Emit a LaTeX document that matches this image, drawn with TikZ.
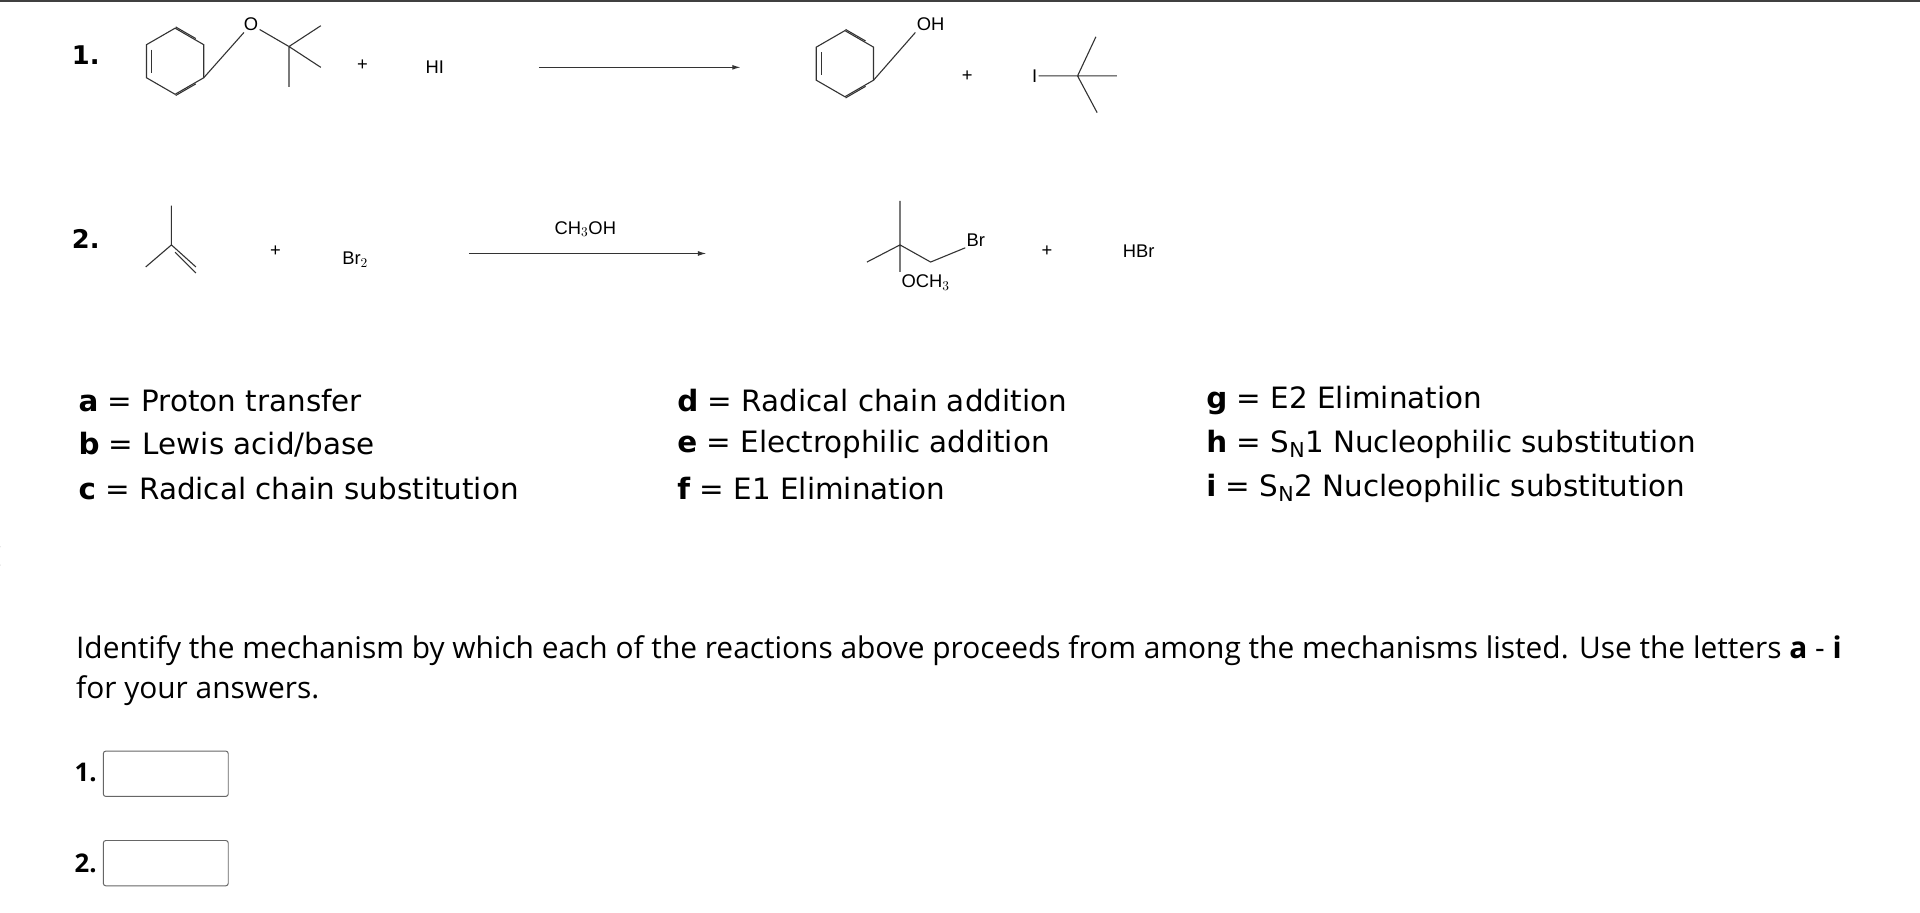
\documentclass[tikz,border=0pt]{standalone}
\usepackage{fontspec}
\setmainfont{DejaVu Sans}
\newfontfamily\chemf{Liberation Sans}
\newfontfamily\instf{Open Sans}
\usetikzlibrary{arrows.meta,calc}
\begin{document}
\begin{tikzpicture}[x=1pt,y=-1pt,
  bond/.style={line width=0.9pt,black!80},
  chem/.style={font=\chemf\fontsize{15}{17}\selectfont,inner sep=1pt},
  leg/.style={anchor=west,font=\fontsize{24}{28}\selectfont,inner sep=0pt},
  num/.style={font=\bfseries\fontsize{21}{24}\selectfont,inner sep=0pt},
  rxn/.style={line width=1pt,black!80,-{Latex[length=7pt,width=4pt]}},
  ansbox/.style={draw=black!60,line width=0.8pt,rounded corners=2pt,minimum width=102pt,minimum height=37pt,inner sep=0pt,anchor=north west}]
\useasboundingbox (0,0) rectangle (1568,745);
\fill[white] (0,0) rectangle (1568,745);
\fill[black!75] (0,0) rectangle (1568,2);
\draw[black!25,line width=1pt] (0,462) arc (-90:90:-1pt and 8pt);
% reaction 1
\node[num] (n1) at (70,45) {1.};
\foreach \i in {0,...,5}{\coordinate (r\i) at ($(143,50)+(90-60*\i:27)$);}
\draw[bond] (r0)--(r1)--(r2)--(r3)--(r4)--(r5)--cycle;
\draw[bond] ($(r0)!0.15!(r1)+(-3,3)$)--($(r0)!0.85!(r1)+(-3,3)$);
\draw[bond] ($(r2)!0.15!(r3)+(-3,-3)$)--($(r2)!0.85!(r3)+(-3,-3)$);
\draw[bond] ($(r4)!0.15!(r5)+(4,0)$)--($(r4)!0.85!(r5)+(4,0)$);
\node[chem] (O1) at (205,20) {O};
\coordinate (c1) at (236,38);
\draw[bond] (r1)--(O1) (O1)--(c1) (c1)--(262,21) (c1)--(262,55) (c1)--(236,71);
\node[chem] (p1) at (296,53) {+};
\node[chem] (HI) at (355,55) {HI};
\coordinate (a1s) at (440,55); \coordinate (a1e) at (605,55);
\draw[rxn] (a1s)--(a1e);
\foreach \i in {0,...,5}{\coordinate (q\i) at ($(690,52)+(90-60*\i:27)$);}
\draw[bond] (q0)--(q1)--(q2)--(q3)--(q4)--(q5)--cycle;
\draw[bond] ($(q0)!0.15!(q1)+(-3,3)$)--($(q0)!0.85!(q1)+(-3,3)$);
\draw[bond] ($(q2)!0.15!(q3)+(-3,-3)$)--($(q2)!0.85!(q3)+(-3,-3)$);
\draw[bond] ($(q4)!0.15!(q5)+(4,0)$)--($(q4)!0.85!(q5)+(4,0)$);
\node[chem] (OH1) at (760,20) {OH};
\draw[bond] (q1)--(OH1.south west);
\node[chem] (p2) at (790,62) {+};
\node[chem] (I1) at (845,62) {I};
\coordinate (c2) at (880,62);
\draw[bond] (I1)--(c2) (c2)--(912,62) (c2)--(895,30) (c2)--(896,92);
% reaction 2
\node[num] (n2) at (70,195) {2.};
\coordinate (c3) at (140,200);
\draw[bond] (c3)--(140,168) (c3)--(119,218) (c3)--(160,218);
\draw[bond] (143,206)--(160,223);
\node[chem] (p3) at (225,205) {+};
\node[chem] (Br2) at (290,212) {Br$_2$};
\coordinate (a2s) at (383,207); \coordinate (a2e) at (577,207);
\draw[rxn] (a2s)--(a2e);
\node[chem] (solv) at (478,187) {CH$_3$OH};
\coordinate (c4) at (735,200);
\node[chem] (Br3) at (797,196) {Br};
\node[chem] (OMe) at (756,231) {OCH$_3$};
\draw[bond] (c4)--(735,164) (c4)--(708,214) (c4)--(735,222) (c4)--(760,214)--(Br3.south west);
\node[chem] (p4) at (855,205) {+};
\node[chem] (HBr) at (930,205) {HBr};
% legend
\node[leg] (la) at (64,327) {\textbf{a} = Proton transfer};
\node[leg] (lb) at (64,363) {\textbf{b} = Lewis acid/base};
\node[leg] (lc) at (64,399) {\textbf{c} = Radical chain substitution};
\node[leg] (ld) at (553,327) {\textbf{d} = Radical chain addition};
\node[leg] (le) at (553,363) {\textbf{e} = Electrophilic addition};
\node[leg] (lf) at (553,399) {\textbf{f} = E1 Elimination};
\node[leg] (lg) at (985,327) {\textbf{g} = E2 Elimination};
\node[leg] (lh) at (985,363) {\textbf{h} = S$_{\mathrm{N}}$1 Nucleophilic substitution};
\node[leg] (li) at (985,399) {\textbf{i} = S$_{\mathrm{N}}$2 Nucleophilic substitution};
% instructions
\node[anchor=west,inner sep=0pt,font=\instf\fontsize{24.4}{28}\selectfont] (t1) at (62,531) {Identify the mechanism by which each of the reactions above proceeds from among the mechanisms listed. Use the letters \textbf{a} - \textbf{i}};
\node[anchor=west,inner sep=0pt,font=\instf\fontsize{24.4}{28}\selectfont] (t2) at (62,564) {for your answers.};
\node[num,font=\instf\bfseries\fontsize{21}{24}\selectfont] (an1) at (70,631) {1.};
\node[ansbox] (b1) at (84,613) {};
\node[num,font=\instf\bfseries\fontsize{21}{24}\selectfont] (an2) at (70,705) {2.};
\node[ansbox] (b2) at (84,686) {};
\end{tikzpicture}
\end{document}
